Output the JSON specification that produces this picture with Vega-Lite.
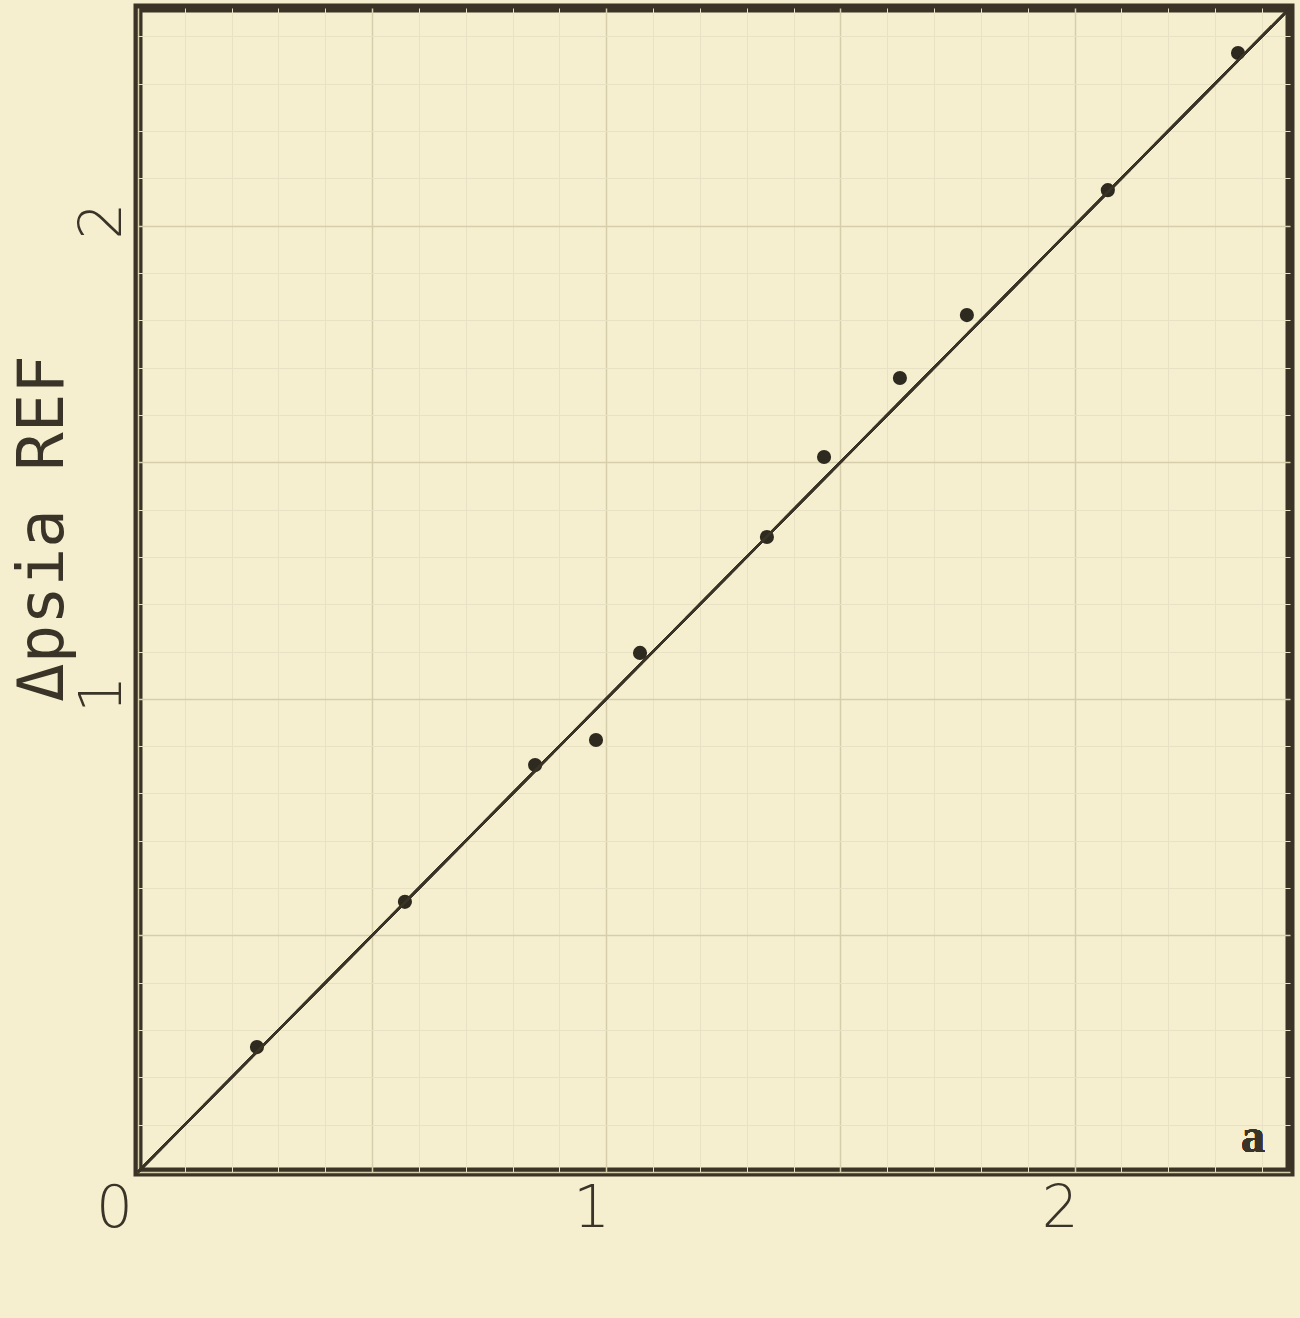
{
  "$schema": "https://vega.github.io/schema/vega-lite/v6.json",
  "width": 1152,
  "height": 1164,
  "autosize": {"type": "none"},
  "padding": {"left": 138, "top": 8, "right": 10, "bottom": 146},
  "background": "#f5efd0",
  "config": {
    "view": {"stroke": "#3b3426", "strokeWidth": 9, "fill": "#f5efd0"},
    "axis": {
      "domain": false,
      "ticks": false,
      "labelOverlap": false,
      "labelFlush": false,
      "labelFont": "DejaVu Sans",
      "labelFontWeight": 300,
      "labelFontSize": 58,
      "labelColor": "#3a3428",
      "gridColor": {"condition": {"test": "abs(datum.value*4 - round(datum.value*4)) < 0.01", "value": "#d6cdaa"}, "value": "#e8e1c3"},
      "gridWidth": {"condition": {"test": "abs(datum.value*4 - round(datum.value*4)) < 0.01", "value": 1.5}, "value": 1}
    }
  },
  "data": {
    "values": [
      {"actual": 0.254, "ref": 0.264},
      {"actual": 0.570, "ref": 0.571},
      {"actual": 0.848, "ref": 0.860},
      {"actual": 0.978, "ref": 0.913},
      {"actual": 1.072, "ref": 1.097},
      {"actual": 1.343, "ref": 1.342},
      {"actual": 1.465, "ref": 1.511},
      {"actual": 1.627, "ref": 1.678},
      {"actual": 1.770, "ref": 1.811},
      {"actual": 2.071, "ref": 2.075},
      {"actual": 2.349, "ref": 2.365}
    ]
  },
  "layer": [
    {
      "mark": {"type": "circle", "size": 200, "opacity": 1, "color": "#2e2a20"},
      "encoding": {
        "x": {
          "field": "actual", "type": "quantitative",
          "scale": {"domain": [0, 2.46], "nice": false, "zero": true},
          "axis": {
            "title": null,
            "grid": true,
            "values": [0,0.05,0.1,0.15,0.2,0.25,0.3,0.35,0.4,0.45,0.5,0.55,0.6,0.65,0.7,0.75,0.8,0.85,0.9,0.95,1,1.05,1.1,1.15,1.2,1.25,1.3,1.35,1.4,1.45,1.5,1.55,1.6,1.65,1.7,1.75,1.8,1.85,1.9,1.95,2,2.05,2.1,2.15,2.2,2.25,2.3,2.35,2.4,2.45],
            "labelExpr": "abs(datum.value - round(datum.value)) < 0.001 ? format(datum.value, 'd') : ''",
            "labelPadding": 8,
            "labelOffset": {"condition": {"test": "datum.value == 0", "value": -24}, "value": -15}
          }
        },
        "y": {
          "field": "ref", "type": "quantitative",
          "scale": {"domain": [0, 2.46], "nice": false, "zero": true},
          "axis": {
            "title": "Δpsia REF",
            "titleFont": "DejaVu Sans Mono",
            "titleFontWeight": "normal",
            "titleFontSize": 64,
            "titleColor": "#3a3428",
            "titleAngle": -90,
            "titleAlign": "center",
            "titleBaseline": "middle",
            "titleX": -95,
            "titleY": 520,
            "grid": true,
            "values": [0,0.05,0.1,0.15,0.2,0.25,0.3,0.35,0.4,0.45,0.5,0.55,0.6,0.65,0.7,0.75,0.8,0.85,0.9,0.95,1,1.05,1.1,1.15,1.2,1.25,1.3,1.35,1.4,1.45,1.5,1.55,1.6,1.65,1.7,1.75,1.8,1.85,1.9,1.95,2,2.05,2.1,2.15,2.2,2.25,2.3,2.35,2.4,2.45],
            "labelExpr": "datum.value > 0.5 && abs(datum.value - round(datum.value)) < 0.001 ? format(datum.value, 'd') : ''",
            "labelAngle": -90,
            "labelAlign": "center",
            "labelBaseline": "alphabetic",
            "labelPadding": 18,
            "labelOffset": -5
          }
        }
      }
    },
    {
      "mark": {"type": "rule", "color": "#3a3427", "strokeWidth": 2.2},
      "encoding": {
        "x": {"datum": 0, "type": "quantitative"},
        "y": {"datum": 0, "type": "quantitative"},
        "x2": {"datum": 2.46},
        "y2": {"datum": 2.46}
      }
    },
    {
      "mark": {"type": "text", "text": "a", "font": "Liberation Serif", "fontWeight": "bold", "fontSize": 48, "color": "#3a3428", "align": "center", "baseline": "middle"},
      "encoding": {
        "x": {"datum": 2.381, "type": "quantitative"},
        "y": {"datum": 0.072, "type": "quantitative"}
      }
    }
  ]
}
